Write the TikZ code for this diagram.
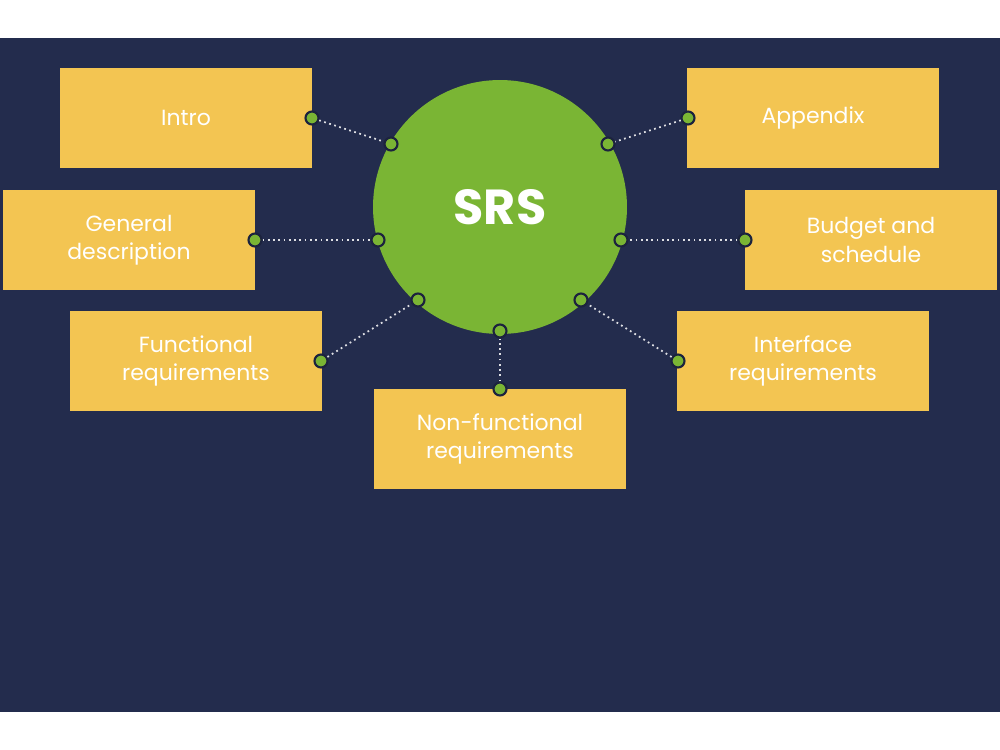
\documentclass[tikz,border=0pt]{standalone}
\usepackage{fontspec}
\setmainfont{Poppins}
\definecolor{navy}{HTML}{232C4D}
\definecolor{boxy}{HTML}{F3C552}
\definecolor{grn}{HTML}{7AB534}
\begin{document}
\begin{tikzpicture}[x=0.02cm,y=-0.02cm,
  box/.style={fill=boxy,minimum width=5.04cm,minimum height=2cm,text=white,align=center,font=\fontsize{12.5}{16}\selectfont,inner sep=0pt},
  dot/.style={circle,fill=grn,draw=navy!80!black,line width=1.2pt,minimum size=0.26cm,inner sep=0pt},
  link/.style={white!85!navy,line width=1pt,dotted}]
\useasboundingbox (0,0) rectangle (1000,750);
\fill[white] (0,0) rectangle (1000,750);
\fill[navy] (0,38) rectangle (1000,712);
\node[circle,fill=grn,minimum size=5.08cm,inner sep=0pt,text=white,font=\fontsize{28}{30}\selectfont\bfseries] (srs) at (500,207) {SRS};
\node[box] (intro) at (186,118) {Intro};
\node[box] (app) at (813,118) {Appendix};
\node[box] (gen) at (129,240) {General\\description};
\node[box] (bud) at (871,240) {Budget and\\schedule};
\node[box] (fun) at (196,361) {Functional\\requirements};
\node[box] (int) at (803,361) {Interface\\requirements};
\node[box] (non) at (500,439) {Non-functional\\requirements};
\node[dot] (a1) at (312,118) {}; \node[dot] (a2) at (391,144) {};
\node[dot] (b1) at (688,118) {}; \node[dot] (b2) at (608,144) {};
\node[dot] (c1) at (255,240) {}; \node[dot] (c2) at (378,240) {};
\node[dot] (d1) at (745,240) {}; \node[dot] (d2) at (621,240) {};
\node[dot] (e1) at (321,361) {}; \node[dot] (e2) at (418,300) {};
\node[dot] (f1) at (678,361) {}; \node[dot] (f2) at (581,300) {};
\node[dot] (g1) at (500,389) {}; \node[dot] (g2) at (500,331) {};
\foreach \p/\q in {a1/a2,b1/b2,c1/c2,d1/d2,e1/e2,f1/f2,g1/g2}
  \draw[link] (\p) -- (\q);
\end{tikzpicture}
\end{document}
